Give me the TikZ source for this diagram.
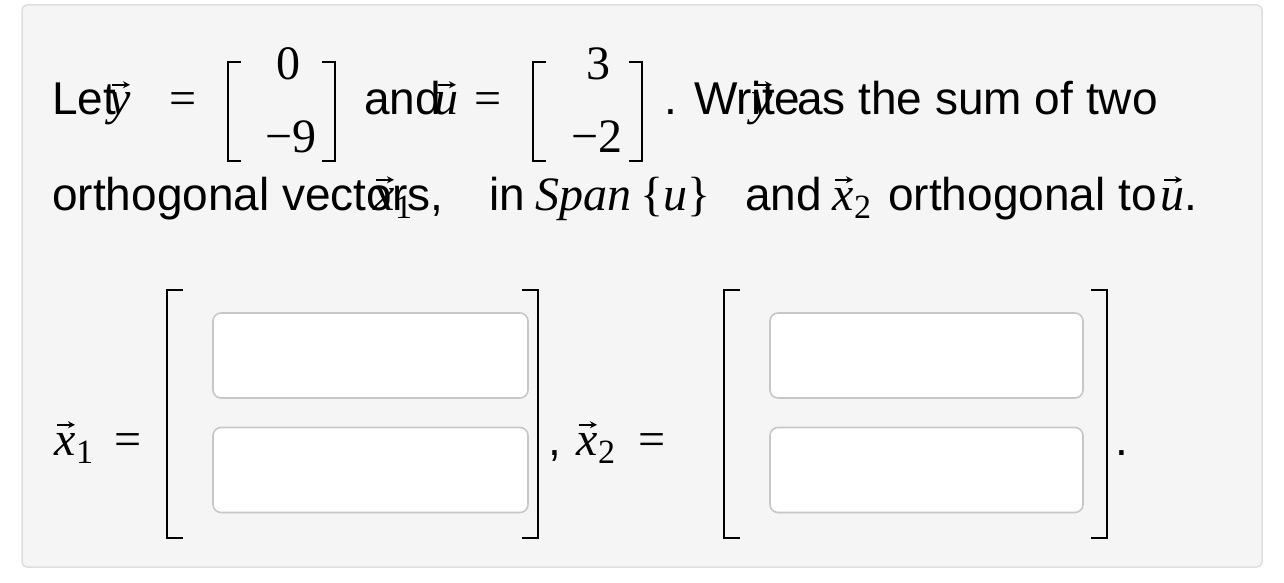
\documentclass[tikz,border=0pt]{standalone}
\usepackage{fontspec}
\setmainfont{Liberation Sans}
\newfontfamily\sr{Liberation Serif}
\usetikzlibrary{arrows.meta}
\begin{document}
\begin{tikzpicture}[x=1pt,y=-1pt,
  txt/.style={anchor=base west,inner sep=0pt,font=\fontsize{46}{52}\selectfont},
  mth/.style={anchor=base,inner sep=0pt,font=\fontsize{48}{54}\sr},
  mi/.style={anchor=base,inner sep=0pt,font=\fontsize{48}{54}\sr\itshape},
  sub/.style={anchor=base west,inner sep=0pt,font=\fontsize{34}{40}\sr},
  va/.style={line width=2pt,-{Stealth[length=7pt,width=7pt]}},
  brk/.style={line width=2.6pt,line cap=butt},
  inbox/.style={draw=black!22,fill=white,rounded corners=8pt,line width=1.6pt}]
\useasboundingbox (0,0) rectangle (1284,583);
\fill[white] (0,0) rectangle (1284,583);
\draw[draw=black!13,fill=black!4,rounded corners=5pt,line width=1.5pt] (22,5) rectangle (1262,567);
% line 1
\node[txt] (let) at (52,115) {Let};
\node[mi] (y1) at (120,115) {y};
\draw[va] ([shift={(-8,-8)}]y1.north) -- ++(18,0);
\node[mth] (eq1) at (183,115) {=};
\draw[brk] (241,62) -- (228,62) -- (228,161) -- (241,161);
\node[mth] (m11) at (288,80) {0};
\node[mth] (m12) at (291,152) {−9};
\draw[brk] (322,62) -- (335,62) -- (335,161) -- (322,161);
\node[txt] (and1) at (364,115) {and};
\node[mi] (u1) at (446,115) {u};
\draw[va] ([shift={(-8,-8)}]u1.north) -- ++(18,0);
\node[mth] (eq2) at (488,115) {=};
\draw[brk] (546,62) -- (533,62) -- (533,161) -- (546,161);
\node[mth] (m21) at (598,80) {3};
\node[mth] (m22) at (597,152) {−2};
\draw[brk] (629,62) -- (642,62) -- (642,161) -- (629,161);
\node[txt] (write) at (664,115) {. Write};
\node[mi] (y2) at (762,115) {y};
\draw[va] ([shift={(-8,-8)}]y2.north) -- ++(18,0);
\node[txt] (sum) at (797,115) {as the sum of two};
% line 2
\node[txt] (orth) at (52,210) {orthogonal vectors,};
\node[mi] (x1a) at (384,210) {x};
\draw[va] ([shift={(-8,-8)}]x1a.north) -- ++(18,0);
\node[sub] (s1a) at (x1a.base east) [yshift=-8] {1};
\node[txt] (in) at (489,210) {in};
\node[mi,anchor=base west] (span) at (535,210) {Span};
\node[mth,anchor=base west] (set) at (640,210) {\{\textit{u}\}};
\node[txt] (and2) at (745,210) {and};
\node[mi] (x2a) at (843,210) {x};
\draw[va] ([shift={(-8,-8)}]x2a.north) -- ++(18,0);
\node[sub] (s2a) at (x2a.base east) [yshift=-8] {2};
\node[txt] (orthto) at (888,210) {orthogonal to};
\node[mi] (u2) at (1172,210) {u};
\draw[va] ([shift={(-8,-8)}]u2.north) -- ++(18,0);
\node[txt] (dot1) at (1184,210) {.};
% answers
\node[mi] (x1) at (65,455) {x};
\draw[va] ([shift={(-8,-8)}]x1.north) -- ++(18,0);
\node[sub] (s1) at (x1.base east) [yshift=-8] {1};
\node[mth] (eq3) at (128,455) {=};
\draw[brk] (183,290) -- (167,290) -- (167,538) -- (183,538);
\node[inbox,minimum width=315pt,minimum height=85pt] (b1) at (370.5,355.5) {};
\node[inbox,minimum width=315pt,minimum height=85pt] (b2) at (370.5,470) {};
\draw[brk] (522,290) -- (538,290) -- (538,538) -- (522,538);
\node[txt] (comma) at (548,455) {,};
\node[mi] (x2) at (587,455) {x};
\draw[va] ([shift={(-8,-8)}]x2.north) -- ++(18,0);
\node[sub] (s2) at (x2.base east) [yshift=-8] {2};
\node[mth] (eq4) at (652,455) {=};
\draw[brk] (740,290) -- (724,290) -- (724,538) -- (740,538);
\node[inbox,minimum width=313pt,minimum height=85pt] (b3) at (926.5,355.5) {};
\node[inbox,minimum width=313pt,minimum height=85pt] (b4) at (926.5,470) {};
\draw[brk] (1091,290) -- (1107,290) -- (1107,538) -- (1091,538);
\node[txt] (dot2) at (1115,455) {.};
\end{tikzpicture}
\end{document}
